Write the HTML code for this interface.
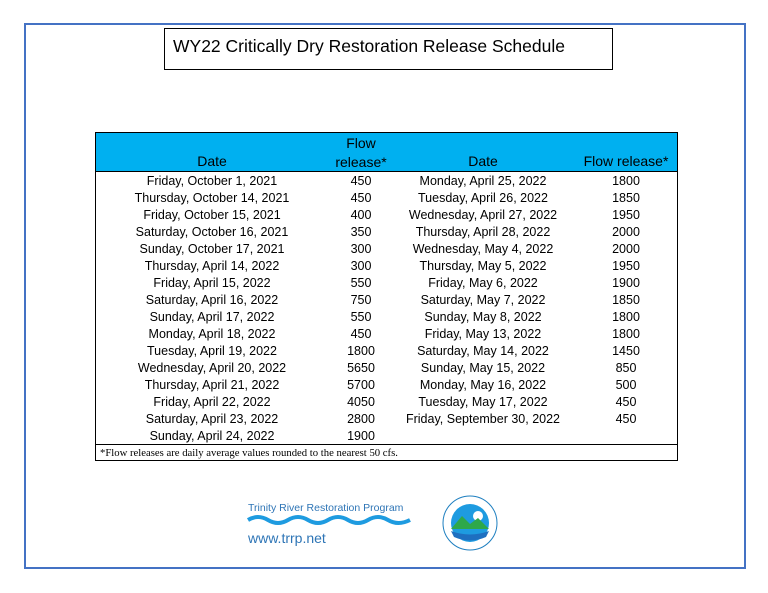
<!DOCTYPE html>
<html><head><meta charset="utf-8"><style>
*{margin:0;padding:0;box-sizing:border-box}
body{width:768px;height:593px;background:#fff;position:relative;overflow:hidden;font-family:"Liberation Sans",sans-serif;color:#000}
.a{position:absolute}
.c{position:absolute;text-align:center;font-size:12.5px;line-height:17px;white-space:nowrap}
</style></head><body>
<div class="a" style="left:24px;top:23px;width:722px;height:546px;border:2px solid #4472c4"></div>
<div class="a" style="left:164px;top:28px;width:449px;height:42px;border:1px solid #000;font-size:17.5px;line-height:34px;padding-left:8px">WY22 Critically Dry Restoration Release Schedule</div>
<div class="a" style="left:95px;top:132px;width:583px;height:329px;border:1px solid #000"></div>
<div class="a" style="left:96px;top:133px;width:581px;height:39px;background:#00b0f0;border-bottom:1px solid #000"></div>
<div class="a" style="left:95px;top:444px;width:583px;border-top:1px solid #000"></div>
<div class="c" style="left:112px;width:200px;top:153px;font-size:14px">Date</div>
<div class="c" style="left:311px;width:100px;top:134px;font-size:14px;line-height:19px">Flow<br>release*</div>
<div class="c" style="left:383px;width:200px;top:153px;font-size:14px">Date</div>
<div class="c" style="left:566px;width:120px;top:153px;font-size:14px">Flow release*</div>
<div id="rows"></div>
<div class="a" style="left:100px;top:446px;font-family:'Liberation Serif',serif;font-size:10.7px;line-height:14px">*Flow releases are daily average values rounded to the nearest 50 cfs.</div>
<div class="a" style="left:248px;top:502px;font-size:10.5px;color:#2e75b6">Trinity River Restoration Program</div>
<svg class="a" style="left:246px;top:514px" width="168" height="12"><path d="M2 6 Q12 0 22 6 T42 6 T62 6 T82 6 T102 6 T122 6 T142 6 T164 6" fill="none" stroke="#1e9be0" stroke-width="4"/></svg>
<div class="a" style="left:248px;top:530px;font-size:14px;color:#2e75b6">www.trrp.net</div>
<svg class="a" style="left:440px;top:494px" width="60" height="58">
<circle cx="30" cy="29" r="27" fill="#fff" stroke="#1e7fc0" stroke-width="1"/>
<circle cx="30" cy="29" r="19" fill="#1e9be0"/>
<circle cx="38" cy="22" r="5" fill="#fff"/>
<path d="M11 35 L22 22 L30 30 L38 24 L49 35 Z" fill="#2ea84a"/>
<path d="M11 37 Q30 44 49 37 L46 43 Q30 50 14 43Z" fill="#1e6fc0"/>
</svg>
<script>
var L=[["Friday, October 1, 2021","450"],["Thursday, October 14, 2021","450"],["Friday, October 15, 2021","400"],["Saturday, October 16, 2021","350"],["Sunday, October 17, 2021","300"],["Thursday, April 14, 2022","300"],["Friday, April 15, 2022","550"],["Saturday, April 16, 2022","750"],["Sunday, April 17, 2022","550"],["Monday, April 18, 2022","450"],["Tuesday, April 19, 2022","1800"],["Wednesday, April 20, 2022","5650"],["Thursday, April 21, 2022","5700"],["Friday, April 22, 2022","4050"],["Saturday, April 23, 2022","2800"],["Sunday, April 24, 2022","1900"]];
var R=[["Monday, April 25, 2022","1800"],["Tuesday, April 26, 2022","1850"],["Wednesday, April 27, 2022","1950"],["Thursday, April 28, 2022","2000"],["Wednesday, May 4, 2022","2000"],["Thursday, May 5, 2022","1950"],["Friday, May 6, 2022","1900"],["Saturday, May 7, 2022","1850"],["Sunday, May 8, 2022","1800"],["Friday, May 13, 2022","1800"],["Saturday, May 14, 2022","1450"],["Sunday, May 15, 2022","850"],["Monday, May 16, 2022","500"],["Tuesday, May 17, 2022","450"],["Friday, September 30, 2022","450"]];
var h="";
function cell(x,w,t,s){return '<div class="c" style="left:'+x+'px;width:'+w+'px;top:'+t+'px">'+s+'</div>';}
for(var i=0;i<16;i++){var t=173+17*i;h+=cell(112,200,t,L[i][0])+cell(311,100,t,L[i][1]);if(R[i])h+=cell(383,200,t,R[i][0])+cell(566,120,t,R[i][1]);}
document.getElementById("rows").innerHTML=h;
</script>
</body></html>
